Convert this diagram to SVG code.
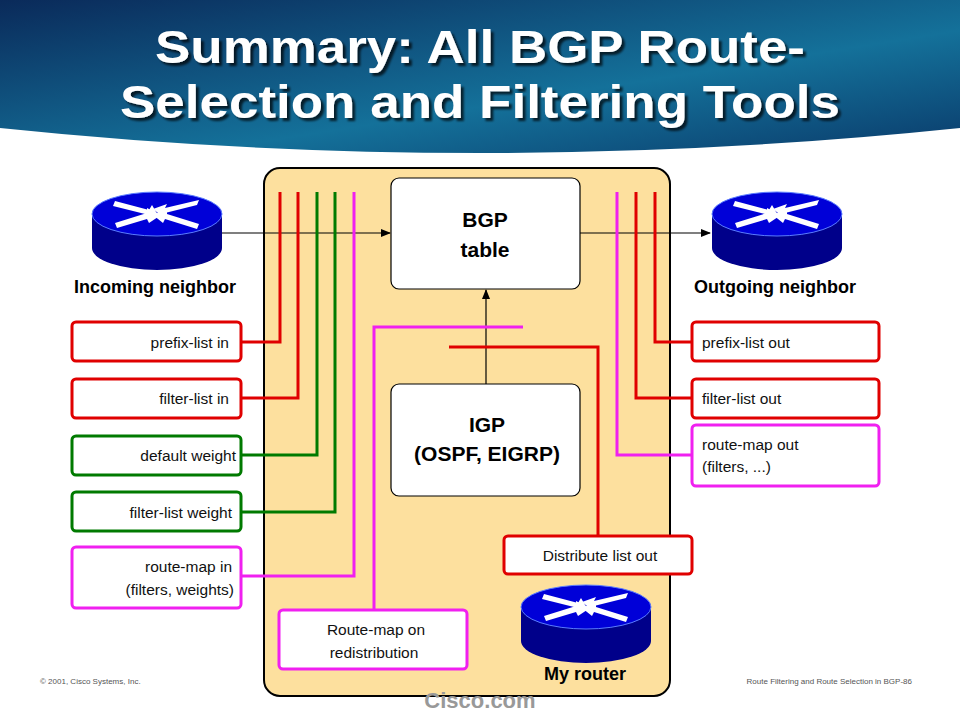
<svg xmlns="http://www.w3.org/2000/svg" xmlns:xlink="http://www.w3.org/1999/xlink" width="960" height="720" viewBox="0 0 960 720">
<style>
text{font-family:"Liberation Sans",Arial,sans-serif;}
.box{fill:#fff;stroke-width:3;}
.r{stroke:#e00000;}
.g{stroke:#007a00;}
.m{stroke:#f020f0;}
.ln{fill:none;stroke-width:3;}
.lbl{font-size:15.5px;fill:#111;text-anchor:end;}
.lbs{font-size:15.5px;fill:#111;text-anchor:start;}
.lblc{font-size:15.5px;fill:#111;text-anchor:middle;}
.big{font-size:21px;font-weight:bold;fill:#000;text-anchor:middle;}
.cap{font-size:18px;font-weight:bold;fill:#000;text-anchor:middle;}
.foot{font-size:8px;fill:#555;}
</style>
<defs>
<linearGradient id="hdr" x1="0" y1="0" x2="1" y2="1">
<stop offset="0" stop-color="#0a2a5a"/><stop offset="0.6" stop-color="#14719a"/><stop offset="1" stop-color="#0a3a6a"/>
</linearGradient>
<filter id="sh" x="-5%" y="-20%" width="110%" height="140%"><feDropShadow dx="3" dy="3" stdDeviation="1" flood-color="#000" flood-opacity="0.7"/></filter>
<marker id="ah" markerWidth="10" markerHeight="10" refX="9" refY="5" orient="auto" markerUnits="userSpaceOnUse">
<path d="M0,1 L10,5 L0,9 Z" fill="#000"/>
</marker>
<g id="router">
<path d="M-65,0 V34 A65,22 0 0 0 65,34 V0 Z" fill="#00008a"/>
<ellipse cx="0" cy="0" rx="65" ry="22" fill="#0000d8" stroke="#5a7cff" stroke-width="1"/>
<g fill="#fff">
<polygon points="-42,-13 -8,-4 -5,-9 2,3 -14,4 -12,0 -44,-8"/>
<polygon points="42,-14 8,-6 10,-10 -4,-5 6,3 8,-1 40,-9"/>
<polygon points="-40,14 -10,5 -8,9 4,1 -10,-6 -10,-1 -42,9"/>
<polygon points="40,15 8,5 6,9 -4,1 10,-5 10,0 42,10"/>
</g>
</g>
</defs>
<rect width="960" height="720" fill="#fff"/>
<path d="M0,0 H960 V128 Q480,178 0,128 Z" fill="url(#hdr)"/>
<g font-weight="bold" font-size="46" text-anchor="middle" fill="#fff" filter="url(#sh)">
<text x="480" y="63" textLength="650" lengthAdjust="spacingAndGlyphs">Summary: All BGP Route-</text>
<text x="480" y="118" textLength="720" lengthAdjust="spacingAndGlyphs">Selection and Filtering Tools</text>
</g>
<rect x="264" y="168" width="406" height="528" rx="16" fill="#fde09e" stroke="#000" stroke-width="2"/>

<g id="connectors">
<line x1="222" y1="233" x2="390" y2="233" stroke="#000" stroke-width="1.2" marker-end="url(#ah)"/>
<line x1="580" y1="233" x2="710" y2="233" stroke="#000" stroke-width="1.2" marker-end="url(#ah)"/>
<line x1="486" y1="384" x2="486" y2="290" stroke="#000" stroke-width="1.2" marker-end="url(#ah)"/>
<polyline class="ln r" points="241,342 280,342 280,192"/>
<polyline class="ln r" points="241,398 298,398 298,192"/>
<polyline class="ln g" points="241,455 317,455 317,192"/>
<polyline class="ln g" points="241,512 335,512 335,192"/>
<polyline class="ln m" points="241,576 354,576 354,192"/>
<polyline class="ln m" points="374,610 374,327 523,327"/>
<polyline class="ln r" points="598,536 598,347 449,347"/>
<polyline class="ln r" points="692,342 655,342 655,192"/>
<polyline class="ln r" points="692,398 636,398 636,192"/>
<polyline class="ln m" points="692,455 617,455 617,192"/>
</g>

<g id="bgp-table"><rect x="391" y="178" width="189" height="111" rx="8" fill="#fff" stroke="#000" stroke-width="1.2"/>
<text class="big" x="485" y="227">BGP</text><text class="big" x="485" y="257">table</text></g>
<g id="igp"><rect x="391" y="384" width="189" height="112" rx="8" fill="#fff" stroke="#000" stroke-width="1.2"/>
<text class="big" x="487" y="432">IGP</text><text class="big" x="487" y="461">(OSPF, EIGRP)</text></g>

<g id="incoming"><use xlink:href="#router" x="157" y="214"/><text class="cap" x="155" y="293">Incoming neighbor</text></g>
<g id="outgoing"><use xlink:href="#router" x="777" y="214"/><text class="cap" x="775" y="293">Outgoing neighbor</text></g>
<g id="myrouter"><use xlink:href="#router" x="586" y="607"/><text class="cap" x="585" y="680">My router</text></g>

<g id="prefix-in"><rect class="box r" x="72" y="322" width="169" height="39" rx="4"/><text class="lbl" x="229" y="348">prefix-list in</text></g>
<g id="filter-in"><rect class="box r" x="72" y="379" width="169" height="39" rx="4"/><text class="lbl" x="229" y="404">filter-list in</text></g>
<g id="default-weight"><rect class="box g" x="72" y="436" width="169" height="39" rx="4"/><text class="lbl" x="236" y="461">default weight</text></g>
<g id="filter-weight"><rect class="box g" x="72" y="492" width="169" height="39" rx="4"/><text class="lbl" x="232" y="518">filter-list weight</text></g>
<g id="route-map-in"><rect class="box m" x="72" y="547" width="169" height="61" rx="4"/><text class="lbl" x="232" y="572">route-map in</text><text class="lbl" x="234" y="595">(filters, weights)</text></g>
<g id="route-map-redist"><rect class="box m" x="279" y="610" width="188" height="59" rx="4"/><text class="lblc" x="376" y="635">Route-map on</text><text class="lblc" x="374" y="658">redistribution</text></g>
<g id="distribute-out"><rect class="box r" x="504" y="536" width="188" height="38" rx="4"/><text class="lblc" x="600" y="561">Distribute list out</text></g>
<g id="prefix-out"><rect class="box r" x="692" y="322" width="187" height="39" rx="4"/><text class="lbs" x="702" y="348">prefix-list out</text></g>
<g id="filter-out"><rect class="box r" x="692" y="379" width="187" height="39" rx="4"/><text class="lbs" x="702" y="404">filter-list out</text></g>
<g id="route-map-out"><rect class="box m" x="692" y="425" width="187" height="61" rx="4"/><text class="lbs" x="702" y="450">route-map out</text><text class="lbs" x="702" y="472">(filters, ...)</text></g>

<text class="foot" x="40" y="684">© 2001, Cisco Systems, Inc.</text>
<text class="foot" x="912" y="684" text-anchor="end">Route Filtering and Route Selection in BGP-86</text>
<text x="480" y="708" text-anchor="middle" font-family="Liberation Serif,serif" font-weight="bold" font-size="22" fill="#999">Cisco.com</text>
</svg>
